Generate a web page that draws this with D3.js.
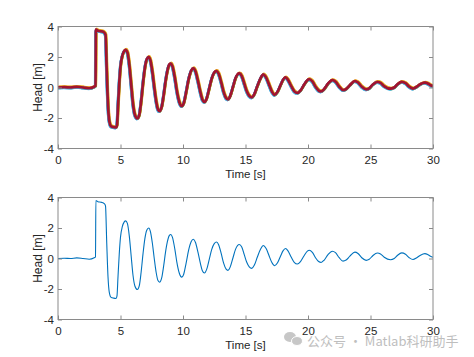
<!DOCTYPE html>
<html><head><meta charset="utf-8">
<script src="https://cdn.jsdelivr.net/npm/d3@7"></script>
<style>
html,body{margin:0;padding:0;background:#fff;}
svg{display:block;font-family:"Liberation Sans",Arial,sans-serif;}
</style></head><body>
<svg id="chart" width="474" height="357"></svg>
<script>
// ---- data ----
const timeS = [0,0.5,1.0,1.5,2.0,2.5,2.9,3.0,3.03,3.2,3.5,3.7,3.8,3.9,4.0,4.1,4.25,4.45,4.65,4.72,4.8,4.9,5.0,5.15,5.3,5.41,5.55,5.7,5.85,6.0,6.15,6.35,6.5,6.65,6.8,6.95,7.1,7.25,7.4,7.55,7.7,7.85,8.0,8.12,8.3,8.45,8.6,8.75,8.9,9.02,9.15,9.35,9.5,9.7,9.9,10.05,10.25,10.45,10.65,10.83,11.0,11.2,11.4,11.55,11.72,11.9,12.1,12.3,12.5,12.68,12.85,13.05,13.25,13.45,13.6,13.78,14.0,14.2,14.5,14.7,14.9,15.1,15.3,15.5,15.7,15.95,16.2,16.42,16.65,16.9,17.1,17.33,17.55,17.8,18.0,18.2,18.4,18.65,18.9,19.15,19.4,19.7,19.95,20.1,20.35,20.6,20.85,21.05,21.3,21.6,21.95,22.2,22.5,22.8,23.05,23.35,23.75,24.0,24.3,24.65,24.9,25.2,25.55,25.8,26.1,26.6,26.9,27.15,27.5,27.8,28.1,28.4,28.7,29.0,29.35,29.6,29.8,30.0];
const headM = [0.0,0.02,0.0,0.04,0.0,-0.05,0.05,0.1,3.8,3.72,3.68,3.6,3.45,1.0,-1.2,-2.2,-2.55,-2.6,-2.62,-2.45,-1.2,0.3,1.4,2.1,2.4,2.47,2.3,1.5,0.2,-1.1,-1.8,-2.03,-1.8,-0.9,0.3,1.3,1.85,2.0,1.75,1.0,0.0,-0.9,-1.45,-1.55,-1.25,-0.5,0.4,1.1,1.5,1.57,1.4,0.6,-0.2,-0.95,-1.22,-1.05,-0.3,0.55,1.1,1.26,1.05,0.4,-0.35,-0.8,-0.95,-0.7,-0.05,0.6,0.98,1.08,0.9,0.35,-0.3,-0.7,-0.78,-0.55,0.05,0.6,0.92,0.75,0.25,-0.25,-0.55,-0.65,-0.45,0.1,0.6,0.85,0.65,0.15,-0.25,-0.48,-0.3,0.15,0.5,0.66,0.5,0.1,-0.25,-0.36,-0.2,0.2,0.48,0.54,0.4,0.05,-0.2,-0.26,-0.1,0.25,0.48,0.38,0.05,-0.17,-0.1,0.15,0.42,0.33,0.05,-0.12,-0.05,0.2,0.36,0.3,0.08,-0.08,0.0,0.2,0.37,0.28,0.05,-0.07,0.05,0.22,0.32,0.25,0.15,0.08];
// repeated trials in the upper panel: colour, time lag [s], offset [m]
const trialColors = ["#0072BD","#D95319","#EDB120","#7E2F8E","#77AC30","#4DBEEE","#A2142F"];
const trialLag    = [-0.03, 0.03, 0.05, -0.01, 0.02, -0.04, 0.0];
const trialOffset = [-0.04, 0.03, 0.05, 0.0, -0.03, -0.05, 0.0];
const xTicks = [0,5,10,15,20,25,30];
const yTicks = [-4,-2,0,2,4];
const xLabel = "Time [s]";
const yLabel = "Head [m]";
const watermark = "公众号 · Matlab科研助手";

// ---- layout ----
const svg = d3.select("#chart");
const L = 58, R = 433;
const panels = [{top:26.5, bottom:148.5}, {top:197.5, bottom:319.5}];
const axisCol = "#8a8a8a", textCol = "#262626";
const x = d3.scaleLinear().domain([0,30]).range([L,R]);
const pts = timeS.map((t,i)=>({t, h:headM[i]}));

panels.forEach((p, pi) => {
  const y = d3.scaleLinear().domain([-4,4]).range([p.bottom, p.top]);
  const g = svg.append("g");
  const cid = "clip"+pi;
  svg.append("clipPath").attr("id",cid).append("rect")
    .attr("x",L).attr("y",p.top).attr("width",R-L).attr("height",p.bottom-p.top);
  const lines = g.append("g").attr("clip-path",`url(#${cid})`);
  if (pi === 0) {
    trialColors.forEach((c,k) => {
      const line = d3.line().x(d=>x(d.t+trialLag[k])).y(d=>y(d.h+trialOffset[k])).curve(d3.curveMonotoneX);
      lines.append("path").datum(pts).attr("d",line).attr("fill","none")
        .attr("stroke",c).attr("stroke-width", k===6 ? 2.7 : 2.4).attr("stroke-linejoin","round");
    });
  } else {
    const line = d3.line().x(d=>x(d.t)).y(d=>y(d.h)).curve(d3.curveMonotoneX);
    lines.append("path").datum(pts).attr("d",line).attr("fill","none")
      .attr("stroke","#0072BD").attr("stroke-width",1.1);
  }
  // axes
  const fmt = d => String(d);
  const ax = [
    g.append("g").attr("transform",`translate(0,${p.bottom})`).call(d3.axisBottom(x).tickValues(xTicks).tickFormat(fmt).tickSize(-4).tickSizeOuter(0).tickPadding(7)),
    g.append("g").attr("transform",`translate(0,${p.top})`).call(d3.axisTop(x).tickValues(xTicks).tickFormat("").tickSize(-4).tickSizeOuter(0)),
    g.append("g").attr("transform",`translate(${L},0)`).call(d3.axisLeft(y).tickValues(yTicks).tickFormat(fmt).tickSize(-4).tickSizeOuter(0).tickPadding(4)),
    g.append("g").attr("transform",`translate(${R},0)`).call(d3.axisRight(y).tickValues(yTicks).tickFormat("").tickSize(-4).tickSizeOuter(0))
  ];
  ax.forEach(a => {
    a.select(".domain").remove();
    a.selectAll("line").attr("stroke",axisCol);
    a.selectAll("text").attr("fill",textCol).style("font-size","11.5px").style("font-family","'Liberation Sans',Arial,sans-serif");
  });
  g.append("rect").attr("x",L).attr("y",p.top).attr("width",R-L).attr("height",p.bottom-p.top)
    .attr("fill","none").attr("stroke",axisCol).attr("stroke-width",1);
  g.append("text").attr("x",(L+R)/2).attr("y",p.bottom+29).attr("text-anchor","middle")
    .attr("fill",textCol).style("font-size","11.5px").text(xLabel);
  g.append("text").attr("transform",`translate(42,${(p.top+p.bottom)/2}) rotate(-90)`)
    .attr("text-anchor","middle").attr("fill",textCol).style("font-size","12px").text(yLabel);
});

// watermark
const wm = svg.append("g").attr("opacity",0.55);
wm.append("ellipse").attr("cx",290).attr("cy",337).attr("rx",6).attr("ry",5).attr("fill","#9a9a9a");
wm.append("ellipse").attr("cx",297).attr("cy",341).attr("rx",5.5).attr("ry",4.5).attr("fill","#9a9a9a").attr("stroke","#fff").attr("stroke-width",1);
wm.append("text").attr("x",307).attr("y",346).attr("fill","#8a8a8a")
  .style("font-family","'Noto Sans CJK SC',sans-serif").style("font-size","13px").text(watermark);
</script>
</body></html>
